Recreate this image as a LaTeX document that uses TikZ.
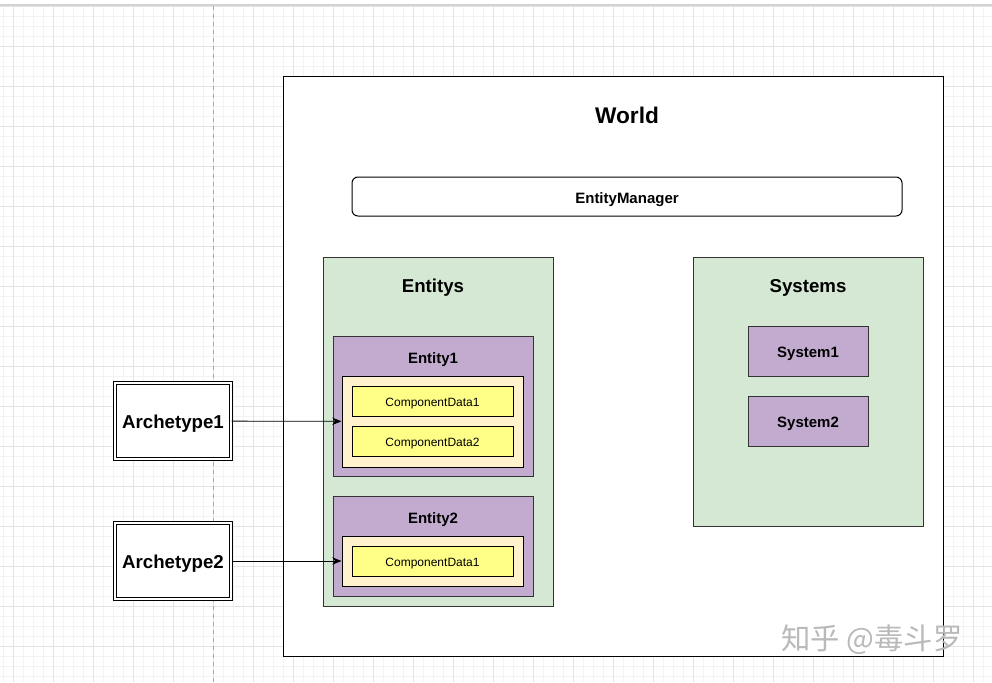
\documentclass[tikz,border=0pt]{standalone}
\usepackage{fontspec}
\setmainfont{Liberation Sans}
\newfontfamily\cjk{Noto Sans CJK SC}
\usetikzlibrary{arrows.meta}
\definecolor{gridminor}{HTML}{F3F3F3}
\definecolor{gridmajor}{HTML}{E4E4E4}
\definecolor{boxgreen}{HTML}{D5E8D4}
\definecolor{boxpurple}{HTML}{C3ABD0}
\definecolor{boxcream}{HTML}{FFF2CC}
\definecolor{boxyellow}{HTML}{FFFF88}
\begin{document}
\begin{tikzpicture}[x=0.75pt,y=-0.75pt]
\tikzstyle{box}=[draw,rectangle,inner sep=0pt,line width=0.75pt]
\tikzstyle{small}=[font=\fontsize{9}{11}\selectfont,text height=8pt,text depth=0pt]
\tikzstyle{mid}=[font=\fontsize{11.25}{13}\selectfont\bfseries,text height=9.8pt,text depth=0pt]
\tikzstyle{big}=[font=\fontsize{14}{17}\selectfont\bfseries,text height=11pt,text depth=0pt]
\tikzstyle{arch}=[draw,double,double distance=1.6pt,line width=0.8pt,fill=white,inner sep=0pt,
  minimum width=87pt,minimum height=57pt,big]
\tikzstyle{link}=[-{Stealth[length=7pt,width=5.5pt]},line width=0.6pt]
\useasboundingbox (0,0) rectangle (992,682);

% background grid
\foreach \x in {3,13,...,993} \draw[gridminor,line width=0.5pt] (\x,6) -- (\x,682);
\foreach \y in {6,16,...,682} \draw[gridminor,line width=0.5pt] (0,\y) -- (992,\y);
\foreach \x in {13,53,...,993} \draw[gridmajor,line width=0.6pt] (\x,6) -- (\x,682);
\foreach \y in {6,46,...,682} \draw[gridmajor,line width=0.6pt] (0,\y) -- (992,\y);
\draw[gray!35,line width=1pt] (0,5) -- (992,5);
\draw[gray!70,dashed,line width=0.6pt] (213,6) -- (213,682);

% world
\node[box,fill=white,minimum width=495pt,minimum height=435pt] at (613,366) (world) {};
\node[font=\fontsize{17}{20}\selectfont\bfseries] at (627,115) (worldtxt) {World};
\node[box,fill=white,rounded corners=4.5pt,minimum width=412.5pt,minimum height=29.25pt,mid] at (627,196.5) (manager) {EntityManager};

% entitys
\node[box,draw=black!80,fill=boxgreen,minimum width=172.5pt,minimum height=261.75pt] at (438,431.5) (entitys) {};
\node[big] at (433,285) (entitystxt) {Entitys};

\node[box,draw=black!80,fill=boxpurple,minimum width=150pt,minimum height=105pt] at (433,406) (entity1) {};
\node[mid] at (433,357) (entity1txt) {Entity1};
\node[box,fill=boxcream,minimum width=135.75pt,minimum height=68.25pt] at (432.5,421.5) (comps1) {};
\node[box,fill=boxyellow,minimum width=120.75pt,minimum height=22.5pt,small] at (432.5,401) (data11) {ComponentData1};
\node[box,fill=boxyellow,minimum width=120.75pt,minimum height=22.5pt,small] at (432.5,441) (data12) {ComponentData2};

\node[box,draw=black!80,fill=boxpurple,minimum width=150pt,minimum height=75pt] at (433,546) (entity2) {};
\node[mid] at (433,517) (entity2txt) {Entity2};
\node[box,fill=boxcream,minimum width=135.75pt,minimum height=37.5pt] at (432.5,561) (comps2) {};
\node[box,fill=boxyellow,minimum width=120.75pt,minimum height=22.5pt,small] at (432.5,561) (data21) {ComponentData1};

% systems
\node[box,draw=black!80,fill=boxgreen,minimum width=172.5pt,minimum height=201.75pt] at (808,391.5) (systems) {};
\node[big] at (808,285) (systemstxt) {Systems};
\node[box,draw=black!80,fill=boxpurple,minimum width=90pt,minimum height=37.5pt,mid] at (808,351) (system1) {System1};
\node[box,draw=black!80,fill=boxpurple,minimum width=90pt,minimum height=37.5pt,mid] at (808,421) (system2) {System2};

% archetypes
\node[arch] at (173,421) (arch1) {Archetype1};
\node[arch] at (173,561) (arch2) {Archetype2};

\draw[link] (arch1) -- (comps1);
\draw[link] (arch2) -- (comps2);

% watermark
\node[text=gray!55,font=\cjk\fontsize{22}{26}\selectfont] at (872,640) (mark) {知乎 @毒斗罗};
\end{tikzpicture}
\end{document}
